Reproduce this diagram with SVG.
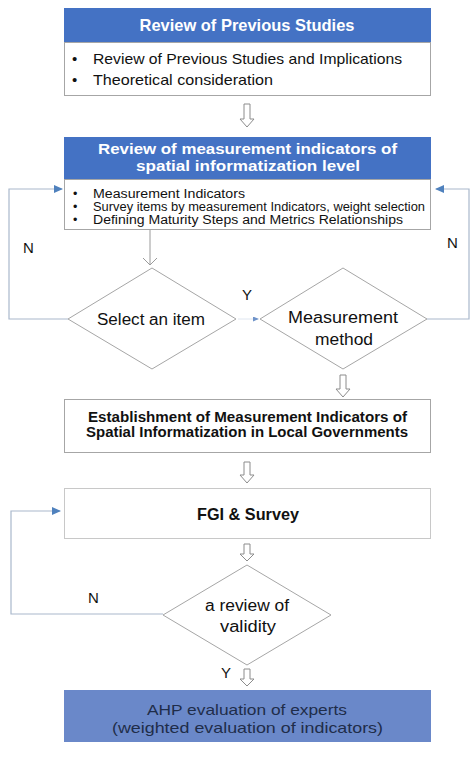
<svg xmlns="http://www.w3.org/2000/svg" width="474" height="770" viewBox="0 0 474 770">
<defs>
<style>
text{font-family:"Liberation Sans",Arial,sans-serif;fill:#111}
.hd{fill:#4472c4}
.bd{fill:#fff;stroke:#a6a6a6;stroke-width:1}
.ht{fill:#fff;font-weight:bold;text-anchor:middle}
.bt{font-size:15px}
.st{font-size:12.5px}
.c{text-anchor:middle}
.b{font-weight:bold}
.dia{fill:#fff;stroke:#a6a6a6;stroke-width:1}
.loop{fill:none;stroke:#a9b8cc;stroke-width:1.2}
.blk{fill:#fff;stroke:#8c8c8c;stroke-width:1}
.lbl{font-size:15px}
.dl{font-size:16px}
</style>
<marker id="ah" markerWidth="9" markerHeight="8" refX="8" refY="4" orient="auto" markerUnits="userSpaceOnUse">
<path d="M0,0 L9,4 L0,8 Z" fill="#4f81bd"/>
</marker>
<marker id="ahs" markerWidth="6" markerHeight="5" refX="5" refY="2.5" orient="auto" markerUnits="userSpaceOnUse">
<path d="M0,0 L6,2.5 L0,5 Z" fill="#6f93c9"/>
</marker>
</defs>

<g id="n1">
<rect class="hd" x="64" y="8" width="367" height="34"/>
<rect class="bd" x="64.5" y="42.5" width="366" height="53"/>
<text class="ht" x="247" y="31" font-size="17" textLength="215" lengthAdjust="spacingAndGlyphs">Review of Previous Studies</text>
<text class="bt" x="72" y="64">•</text>
<text class="bt" x="93" y="64" textLength="309" lengthAdjust="spacingAndGlyphs">Review of Previous Studies and Implications</text>
<text class="bt" x="72" y="85">•</text>
<text class="bt" x="93" y="85" textLength="180" lengthAdjust="spacingAndGlyphs">Theoretical consideration</text>
</g>

<g id="n2">
<rect class="hd" x="64" y="137" width="367" height="42"/>
<rect class="bd" x="64.5" y="179.5" width="366" height="50"/>
<text class="ht" x="247.5" y="154" font-size="14.5" textLength="299" lengthAdjust="spacingAndGlyphs">Review of measurement indicators of</text>
<text class="ht" x="248" y="171" font-size="14.5" textLength="224" lengthAdjust="spacingAndGlyphs">spatial informatization level</text>
<text class="st" x="73" y="198">•</text>
<text class="st" x="93" y="198" textLength="152" lengthAdjust="spacingAndGlyphs">Measurement  Indicators</text>
<text class="st" x="73" y="211">•</text>
<text class="st" x="93" y="211" textLength="332" lengthAdjust="spacingAndGlyphs">Survey items by measurement Indicators, weight selection</text>
<text class="st" x="73" y="224">•</text>
<text class="st" x="93" y="224" textLength="310" lengthAdjust="spacingAndGlyphs">Defining Maturity Steps and Metrics Relationships</text>
</g>

<g id="d1">
<polygon class="dia" points="152,268 236,319 152,369 68,319"/>
<text class="dl c" x="151" y="325" textLength="108" lengthAdjust="spacingAndGlyphs">Select an item</text>
</g>

<g id="d2">
<polygon class="dia" points="343,268 427,319 343,369 260,319"/>
<text class="dl c" x="343" y="323" textLength="110" lengthAdjust="spacingAndGlyphs">Measurement</text>
<text class="dl c" x="344" y="345" textLength="58" lengthAdjust="spacingAndGlyphs">method</text>
</g>

<g id="n3">
<rect class="bd" x="64.5" y="399.5" width="366" height="53"/>
<text class="c b" x="247.5" y="422" font-size="14" textLength="319" lengthAdjust="spacingAndGlyphs">Establishment of Measurement Indicators of</text>
<text class="c b" x="247" y="437" font-size="14" textLength="322" lengthAdjust="spacingAndGlyphs">Spatial Informatization in Local Governments</text>
</g>

<g id="n4">
<rect x="64.5" y="488.5" width="366" height="50" fill="#fff" stroke="#c8c8c8" stroke-width="1"/>
<text class="c b" x="248" y="520" font-size="17" textLength="102" lengthAdjust="spacingAndGlyphs">FGI &amp; Survey</text>
</g>

<g id="d3">
<polygon class="dia" points="247,565 331,615 247,665 163,615"/>
<text class="dl c" x="247" y="611" textLength="84" lengthAdjust="spacingAndGlyphs">a review of</text>
<text class="dl c" x="248" y="632" textLength="56" lengthAdjust="spacingAndGlyphs">validity</text>
</g>

<g id="n5">
<rect x="64" y="690" width="367" height="52" fill="#6a88c9"/>
<text class="lbl c" x="247" y="715" style="fill:#1f2d4a" textLength="200" lengthAdjust="spacingAndGlyphs">AHP evaluation of experts</text>
<text class="lbl c" x="247.5" y="733" style="fill:#1f2d4a" textLength="271" lengthAdjust="spacingAndGlyphs">(weighted evaluation of indicators)</text>
</g>

<g id="connectors">
<path class="blk" d="M244,104 L250,104 L250,119 L254,119 L247,127 L240,119 L244,119 Z"/>
<path class="blk" d="M340,375 L346,375 L346,389 L350,389 L343,397 L336,389 L340,389 Z"/>
<path class="blk" d="M244,462 L250,462 L250,475 L254,475 L247,483 L240,475 L244,475 Z"/>
<path class="blk" d="M244,544 L250,544 L250,554 L254,554 L247,561 L240,554 L244,554 Z"/>
<path class="blk" d="M244,669 L250,669 L250,679 L254,679 L247,686 L240,679 L244,679 Z"/>
<line x1="150" y1="230" x2="150" y2="265" stroke="#9a9a9a" stroke-width="1"/>
<polyline points="143,258 150,265 157,258" fill="none" stroke="#9a9a9a" stroke-width="1"/>
<line x1="238" y1="319" x2="258" y2="319" stroke="#dfe6f0" stroke-width="1" marker-end="url(#ahs)"/>
<polyline class="loop" points="68,319 9,319 9,189 62,189" marker-end="url(#ah)"/>
<polyline class="loop" points="427,319 469,319 469,189 436,189" marker-end="url(#ah)"/>
<polyline class="loop" points="163,614 11,614 11,511 60,511" marker-end="url(#ah)"/>
<text class="lbl" x="23" y="253">N</text>
<text class="lbl" x="447" y="248">N</text>
<text class="lbl" x="242" y="300">Y</text>
<text class="lbl" x="88" y="603">N</text>
<text class="lbl" x="221" y="678">Y</text>
</g>
</svg>
